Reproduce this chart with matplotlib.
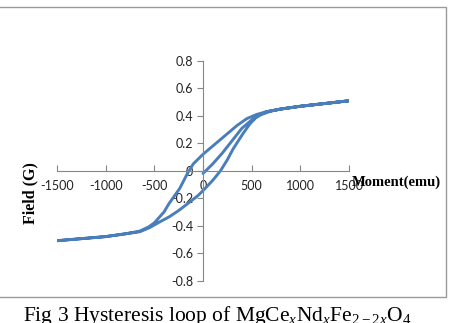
import numpy as np
import matplotlib.pyplot as plt
from matplotlib.patches import Rectangle
from matplotlib.ticker import FuncFormatter

plt.rcParams['axes.unicode_minus'] = False
plt.rcParams['mathtext.fontset'] = 'custom'
plt.rcParams['mathtext.rm'] = 'Liberation Serif'
plt.rcParams['mathtext.it'] = 'Liberation Serif:italic'

# initial magnetisation curve (from origin up to saturation)
virgin_x = [0, 100, 200, 300, 400, 500, 600]
virgin_y = [-0.02, 0.05, 0.13, 0.22, 0.31, 0.37, 0.41]

# descending branch, 1500 -> -1500
down_x = [700, 800, 1000, 1250, 1500, 1250, 1000, 800, 650, 550, 450, 350, 250, 150, 50, 0,
          -100, -160, -240, -300, -350, -400, -450, -500, -560, -650, -800, -1000, -1250, -1500]
down_y = [0.435, 0.45, 0.47, 0.49, 0.51, 0.49, 0.47, 0.45, 0.43, 0.41, 0.38, 0.33, 0.27, 0.21, 0.15, 0.12,
          0.05, -0.02, -0.13, -0.19, -0.24, -0.30, -0.34, -0.38, -0.41, -0.44, -0.46, -0.48, -0.495, -0.51]

# ascending branch, -1500 -> 1500
up_x = [-1250, -1000, -800, -650, -550, -450, -345, -250, -140, -50, 0, 100, 180, 250, 310, 410, 480, 560, 650, 800, 1000, 1250, 1500]
up_y = [-0.495, -0.48, -0.46, -0.445, -0.415, -0.375, -0.335, -0.29, -0.23, -0.18, -0.145, -0.07, 0.0, 0.08, 0.16, 0.27, 0.34, 0.40, 0.43, 0.45, 0.47, 0.49, 0.51]

xticks = [-1500, -1000, -500, 0, 500, 1000, 1500]
yticks = [-0.8, -0.6, -0.4, -0.2, 0, 0.2, 0.4, 0.6, 0.8]

x = virgin_x + down_x + up_x
y = virgin_y + down_y + up_y

fig = plt.figure(figsize=(4.74, 3.23), dpi=100)
ax = fig.add_axes([57/474, 1 - 280.5/323, 292/474, 219.5/323])

ax.plot(x, y, color='#4A7EBB', lw=2.1, solid_joinstyle='round', solid_capstyle='round')

ax.set_xlim(-1500, 1500)
ax.set_ylim(-0.8, 0.8)
ax.set_xticks(xticks)
ax.set_yticks(yticks)
ax.yaxis.set_major_formatter(FuncFormatter(lambda v, p: '0' if abs(v) < 1e-9 else ('%g' % round(v, 1))))

for s in ['top', 'right']:
    ax.spines[s].set_visible(False)
ax.spines['left'].set_position(('data', 0))
ax.spines['bottom'].set_position(('data', 0))
for s in ['left', 'bottom']:
    ax.spines[s].set_color('#868686')
    ax.spines[s].set_linewidth(0.8)

ax.tick_params(axis='x', direction='in', length=4, width=0.8, color='#868686', pad=7,
               labelsize=9, labelcolor='#222222')
ax.tick_params(axis='y', direction='out', length=4, width=0.8, color='#868686', pad=3,
               labelsize=9, labelcolor='#222222')
for lab in ax.get_xticklabels() + ax.get_yticklabels():
    lab.set_family('Lato')

fig.text(352/474, 1 - 182/323, 'Moment(emu)', family='Liberation Serif', weight='bold',
         fontsize=10.5, ha='left', va='center')
fig.text(30/474, 1 - 193/323, 'Field (G)', family='Liberation Serif', weight='bold',
         fontsize=11.5, rotation=90, ha='center', va='center')

# chart border
fig.patches.append(Rectangle((-0.01, 1 - 297/323), 446/474 + 0.01, 290/323,
                             transform=fig.transFigure, fill=False, ec='#9a9a9a', lw=1.0))

fig.text(217/474, 1 - 304/323, 'Fig 3 Hysteresis loop of MgCe$_x$Nd$_x$Fe$_{2-2x}$O$_4$',
         family='Liberation Serif', fontsize=15.5, ha='center', va='top')

fig.savefig('out.png', dpi=100)
